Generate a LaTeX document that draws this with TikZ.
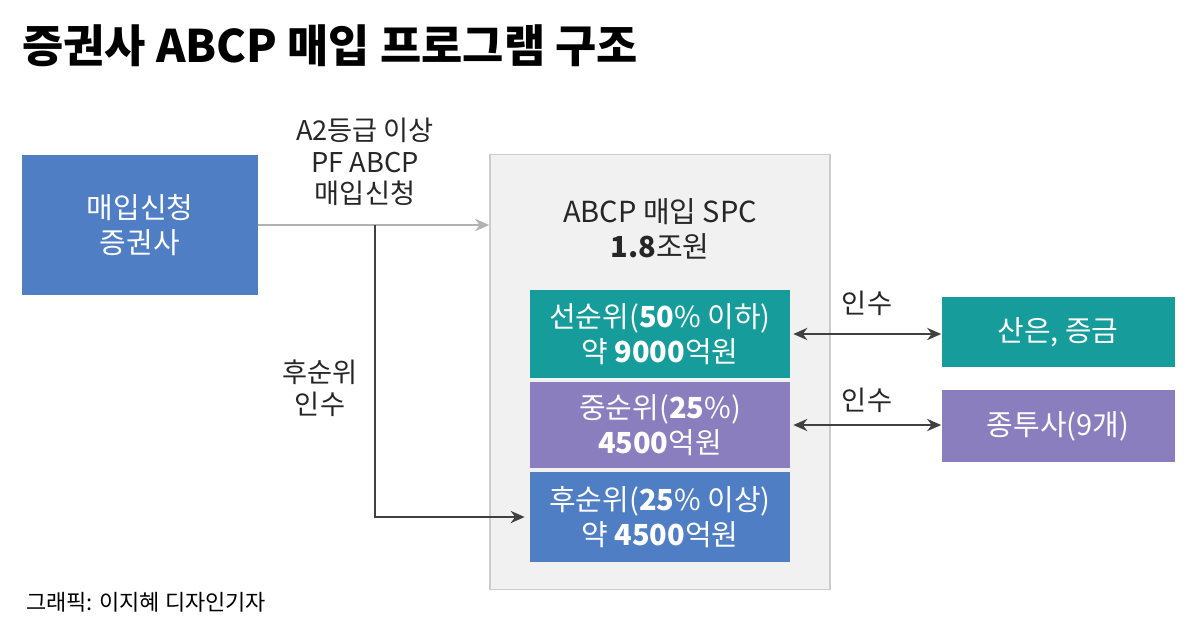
\documentclass[tikz,border=0pt]{standalone}
\usepackage{fontspec}
\setmainfont{Noto Sans CJK KR}
\usetikzlibrary{arrows.meta}
\definecolor{cblue}{HTML}{4F7EC4}
\definecolor{cteal}{HTML}{169C9B}
\definecolor{cpurp}{HTML}{8A7EBE}
\definecolor{cgray}{HTML}{F1F1F1}
\begin{document}
\begin{tikzpicture}[x=0.02cm,y=-0.02cm,
  box/.style={draw=none,text=white,align=center,font=\fontsize{16.5}{20}\selectfont,inner sep=0pt},
  lbl/.style={align=center,font=\fontsize{15.5}{18}\selectfont,text=black!85},
  link/.style={draw=black!75,line width=1pt,-{Stealth[length=8pt,width=7pt]}}]
\useasboundingbox (0,0) rectangle (1200,630);
\node[anchor=west,font=\fontsize{25.5}{28}\bfseries\selectfont] (title) at (16,46) {증권사 ABCP 매입 프로그램 구조};
\node[box,fill=cblue,minimum width=236*0.02cm,minimum height=140*0.02cm] (apply) at (140,225) {매입신청\\증권사};
\node[draw=black!20,line width=1pt,fill=cgray,minimum width=340*0.02cm,minimum height=435*0.02cm,inner sep=0pt] (spc) at (660,372) {};
\node[lbl,font=\fontsize{16.5}{20}\selectfont] (spct) at (660,229) {ABCP 매입 SPC\\\textbf{1.8}조원};
\node[box,fill=cteal,minimum width=260*0.02cm,minimum height=88*0.02cm] (sen) at (660,334) {선순위(\textbf{50}\% 이하)\\약 \textbf{9000}억원};
\node[box,fill=cpurp,minimum width=260*0.02cm,minimum height=86*0.02cm] (mez) at (660,425) {중순위(\textbf{25}\%)\\\textbf{4500}억원};
\node[box,fill=cblue,minimum width=260*0.02cm,minimum height=90*0.02cm] (sub) at (660,517) {후순위(\textbf{25}\% 이상)\\약 \textbf{4500}억원};
\node[box,fill=cteal,minimum width=233*0.02cm,minimum height=70*0.02cm] (kdb) at (1058,332) {산은, 증금};
\node[box,fill=cpurp,minimum width=233*0.02cm,minimum height=72*0.02cm] (ib) at (1058,426) {종투사(9개)};
\node[lbl] (l1) at (365,162) {A2등급 이상\\PF ABCP\\매입신청};
\node[lbl] (l2) at (320,388) {후순위\\인수};
\node[lbl] (l3) at (867,303) {인수};
\node[lbl] (l4) at (867,400) {인수};
\node[anchor=west,font=\fontsize{12.5}{14}\selectfont] (foot) at (20,602) {그래픽: 이지혜 디자인기자};
\coordinate (br) at (375,225);
\coordinate (bd) at (375,517);
\draw[line width=1pt,-{Stealth[length=8pt,width=7pt]},color=black!30] (apply.east) -- (spc.west|-apply.east);
\draw[link] (br) -- (bd) -- ([xshift=-5*0.02cm]sub.west);
\draw[link,{Stealth[length=8pt,width=7pt]}-{Stealth[length=8pt,width=7pt]}] ([xshift=3*0.02cm]sen.east) -- (kdb.west|-sen.east);
\draw[link,{Stealth[length=8pt,width=7pt]}-{Stealth[length=8pt,width=7pt]}] ([xshift=3*0.02cm]mez.east) -- (ib.west|-mez.east);
\end{tikzpicture}
\end{document}
